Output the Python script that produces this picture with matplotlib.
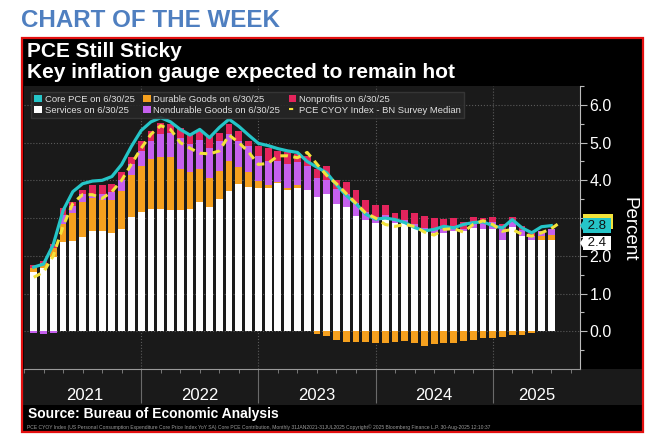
import numpy as np
import matplotlib
matplotlib.use("Agg")
from matplotlib import pyplot as plt
from matplotlib.patches import Patch, Rectangle, Polygon
from matplotlib.lines import Line2D
from matplotlib.transforms import blended_transform_factory

plt.rcParams['font.family'] = ['Liberation Sans', 'DejaVu Sans']
NARROW = ['Liberation Sans Narrow', 'Liberation Sans', 'DejaVu Sans']

# monthly, Jan 2021 .. Jun 2025 (contributions to core PCE y/y, pct pts)
years = ['2021', '2022', '2023', '2024', '2025']
services = [1.57, 1.68, 1.98, 2.36, 2.39, 2.50, 2.65, 2.65, 2.61, 2.72, 3.04, 3.17,
            3.23, 3.23, 3.22, 3.22, 3.23, 3.42, 3.30, 3.50, 3.72, 3.89, 3.83, 3.81,
            3.81, 3.93, 3.74, 3.81, 3.74, 3.57, 3.65, 3.37, 3.29, 3.06, 2.96, 2.87,
            3.04, 2.87, 2.87, 2.77, 2.66, 2.60, 2.60, 2.67, 2.65, 2.74, 2.70, 2.71,
            2.42, 2.76, 2.52, 2.42, 2.43, 2.42]
durable = [0.11, 0.12, 0.22, 0.47, 0.74, 0.93, 0.87, 0.83, 0.87, 1.00, 1.09, 1.22,
           1.34, 1.38, 1.39, 1.08, 0.99, 0.88, 0.77, 0.76, 0.78, 0.46, 0.39, 0.18,
           0.06, 0.03, 0.07, 0.06, 0.00, -0.06, -0.13, -0.23, -0.28, -0.28, -0.28, -0.30,
           -0.32, -0.28, -0.27, -0.30, -0.40, -0.35, -0.32, -0.30, -0.26, -0.22, -0.17, -0.17,
           -0.15, -0.11, -0.11, -0.04, 0.09, 0.14]
nondurable = [-0.05, -0.06, -0.04, 0.26, 0.20, 0.22, 0.13, 0.17, 0.22, 0.30, 0.30, 0.39,
              0.47, 0.61, 0.65, 0.83, 0.74, 0.76, 0.80, 0.78, 0.72, 0.69, 0.69, 0.65,
              0.65, 0.56, 0.62, 0.61, 0.65, 0.50, 0.35, 0.41, 0.36, 0.33, 0.21, 0.17,
              0.05, 0.09, 0.08, 0.06, 0.08, 0.10, 0.12, 0.11, 0.07, 0.09, 0.17, 0.18,
              0.30, 0.14, 0.16, 0.10, 0.13, 0.14]
nonprofits = [0.08, 0.05, 0.10, 0.17, 0.10, 0.09, 0.22, 0.22, 0.21, 0.20, 0.18, 0.26,
              0.26, 0.30, 0.22, 0.26, 0.30, 0.24, 0.30, 0.22, 0.26, 0.26, 0.13, 0.26,
              0.35, 0.26, 0.31, 0.22, 0.26, 0.23, 0.39, 0.24, 0.31, 0.35, 0.31, 0.31,
              0.26, 0.17, 0.27, 0.31, 0.31, 0.30, 0.25, 0.22, 0.17, 0.20, 0.13, 0.14,
              0.12, 0.14, 0.12, 0.08, 0.01, 0.02]
core_pce = [1.70, 1.78, 2.30, 3.20, 3.70, 3.91, 3.98, 4.00, 4.10, 4.42, 4.90, 5.32,
            5.55, 5.66, 5.55, 5.35, 5.20, 5.35, 5.13, 5.40, 5.62, 5.43, 5.20, 4.98,
            4.92, 4.84, 4.78, 4.74, 4.50, 4.35, 4.20, 3.88, 3.60, 3.38, 3.10, 2.97,
            3.00, 2.96, 2.88, 2.75, 2.66, 2.70, 2.78, 2.74, 2.83, 2.88, 2.90, 2.80,
            2.74, 2.96, 2.74, 2.61, 2.77, 2.80]
# survey median runs one month further (Jul 2025)
median = [1.43, 1.57, 2.00, 2.78, 3.39, 3.62, 3.62, 3.52, 3.70, 4.00, 4.43, 4.85,
          5.22, 5.45, 5.35, 5.00, 4.85, 4.72, 4.70, 4.78, 5.20, 5.00, 4.75, 4.42,
          4.45, 4.65, 4.65, 4.60, 4.74, 4.43, 4.13, 3.91, 3.65, 3.39, 3.13, 3.00,
          2.83, 2.78, 2.83, 2.78, 2.63, 2.55, 2.70, 2.72, 2.63, 2.83, 2.93, 2.83,
          2.65, 2.70, 2.57, 2.52, 2.61, 2.72, 2.90]

CYAN = '#25c5c8'
ORANGE = '#f5a01e'
PURPLE = '#c660ee'
CRIMSON = '#e3245c'
YELLOW = '#f3e33b'
PLOT_BG = '#1a1a1a'


def box(x0, y0, x1, y1):
    # pixel box (from top-left) -> figure fraction rect
    return [x0 / 660, 1 - y1 / 440, (x1 - x0) / 660, (y1 - y0) / 440]


fig = plt.figure(figsize=(6.6, 4.4), dpi=100)
fig.patch.set_facecolor('white')

fig.add_artist(Rectangle((22 / 660, 1 - 432 / 440), 621 / 660, 394 / 440,
                         transform=fig.transFigure, facecolor='black',
                         edgecolor='none', zorder=-2))
fig.add_artist(Rectangle((22 / 660, 1 - 405 / 440), 621 / 660, 36 / 440,
                         transform=fig.transFigure, facecolor=PLOT_BG,
                         edgecolor='none', zorder=-1))
fig.add_artist(Rectangle((22 / 660, 1 - 432 / 440), 621 / 660, 394 / 440,
                         transform=fig.transFigure, facecolor='none',
                         edgecolor='#e31010', lw=1.6, zorder=20))

ax = fig.add_axes(box(24, 86, 580, 369))
ax.set_facecolor(PLOT_BG)

n = len(services)
x = np.arange(n)
pos = np.zeros(n)
neg = np.zeros(n)
for vals, color in [(services, 'white'), (durable, ORANGE),
                    (nondurable, PURPLE), (nonprofits, CRIMSON)]:
    v = np.array(vals)
    bottom = np.where(v >= 0, pos, neg)
    ax.bar(x, v, 0.70, bottom=bottom, color=color, lw=0, zorder=2)
    pos += np.clip(v, 0, None)
    neg += np.clip(v, None, 0)

ax.plot(x, core_pce, color=CYAN, lw=2.3, zorder=3, solid_joinstyle='round')
ax.plot(np.arange(len(median)), median, color=YELLOW, lw=2.2,
        dashes=(2.5, 1.8), zorder=4)

ax.set_xlim(-0.51, 55.94)
ax.set_ylim(-1.0, 6.37)

# year boundaries (month-end Dec)
bounds = [11, 23, 35, 47]
for b in bounds:
    ax.axvline(b, color='#5a5a5a', ls=':', lw=0.8, zorder=1)
ax.set_yticks(np.arange(0, 7, 1))
ax.set_yticks([v for v in np.arange(-1, 6.6, 0.5) if v % 1], minor=True)
# the 3.0 label sits under the value tags, as in the source chart
ax.set_yticklabels(['' if v == 3 else f'{v:.1f}' for v in np.arange(0, 7, 1)])
ax.grid(axis='y', which='major', color='#5a5a5a', ls=':', lw=0.8)
ax.set_axisbelow(True)
ax.yaxis.tick_right()
ax.set_xticks([])
ax.set_xticks(np.arange(-1, 56, 2), minor=True)
ax.tick_params(axis='y', which='major', length=5, width=0.8, color='#bbbbbb',
               labelcolor='white', labelsize=11.5, pad=2)
ax.tick_params(axis='y', which='minor', length=3, width=0.8, color='#bbbbbb')
ax.tick_params(axis='x', which='minor', length=3, width=0.6, color='#888888')
for lab in ax.get_yticklabels():
    lab.set_family(NARROW)
for s in ['left', 'top']:
    ax.spines[s].set_visible(False)
ax.spines['right'].set_color('#bbbbbb')
ax.spines['right'].set_linewidth(0.8)
ax.spines['bottom'].set_color('#999999')
ax.spines['bottom'].set_linewidth(0.8)

# year band under the plot
ax2 = fig.add_axes(box(24, 369, 580, 405), sharex=ax)
ax2.set_facecolor('none')
ax2.axis('off')
ax2.vlines(bounds, 0, 1, color='#6a6a6a', lw=0.8)
edges = [-0.51] + bounds + [55.94]
for i, yr in enumerate(years):
    ax2.text((edges[i] + edges[i + 1]) / 2, 0.24, yr, color='white',
             fontsize=12, ha='center', va='center', family=NARROW)

# value tags at right (survey tag sits behind, only its top edge shows;
# services tag is stacked just below the core tag)
tr = blended_transform_factory(ax.transAxes, ax.transData)
ax.add_patch(Rectangle((1.006, median[-1] - 0.2), 0.054, 0.42, transform=tr,
                       facecolor=YELLOW, edgecolor='none', clip_on=False,
                       zorder=5))
tags = [(min(services[-1], core_pce[-1] - 0.46), services[-1], 'white', 6),
        (core_pce[-1], core_pce[-1], CYAN, 7)]
for ypos, val, fc, z in tags:
    ax.add_patch(Polygon([(1.0, ypos), (1.008, ypos + 0.18), (1.008, ypos - 0.18)],
                         closed=True, transform=tr, facecolor=fc,
                         edgecolor='none', clip_on=False, zorder=z))
    ax.text(1.008, ypos, f' {val:.1f} ', transform=tr, ha='left', va='center',
            fontsize=9.5, color='#111111', clip_on=False, zorder=z,
            bbox=dict(boxstyle='square,pad=0.1', fc=fc, ec='none'))

handles = [Patch(facecolor=CYAN), Patch(facecolor='white'),
           Patch(facecolor=ORANGE), Patch(facecolor=PURPLE),
           Patch(facecolor=CRIMSON),
           Line2D([], [], color=YELLOW, lw=1.5, dashes=(2, 1.5))]
labels = ['Core PCE on 6/30/25', 'Services on 6/30/25',
          'Durable Goods on 6/30/25', 'Nondurable Goods on 6/30/25',
          'Nonprofits on 6/30/25', 'PCE CYOY Index - BN Survey Median']
leg = ax.legend(handles, labels, loc='upper left', bbox_to_anchor=(0.004, 0.997),
                ncol=3, frameon=True, fancybox=False,
                facecolor='#262626', edgecolor='#3a3a3a', framealpha=0.85,
                labelcolor='#e0e0e0', handlelength=0.8, handleheight=0.8,
                handletextpad=0.3, columnspacing=0.9, borderpad=0.35,
                labelspacing=0.2, prop={'family': NARROW, 'size': 6.8})
leg.set_zorder(10)

fig.text(629 / 660, 1 - 229 / 440, 'Percent', rotation=270, color='white',
         fontsize=13.5, ha='center', va='center')

fig.text(21 / 660, 1 - 27 / 440, 'CHART OF THE WEEK', color='#4f7fc0',
         fontsize=17.4, weight='bold', va='baseline')
fig.text(27 / 660, 1 - 57 / 440, 'PCE Still Sticky', color='white',
         fontsize=15, weight='bold', va='baseline')
fig.text(27 / 660, 1 - 78 / 440, 'Key inflation gauge expected to remain hot',
         color='white', fontsize=15, weight='bold', va='baseline')
fig.text(28 / 660, 1 - 418 / 440, 'Source: Bureau of Economic Analysis',
         color='white', fontsize=10, weight='bold', va='baseline')
fig.text(27 / 660, 1 - 429 / 440,
         'PCE CYOY Index (US Personal Consumption Expenditure Core Price Index YoY SA) '
         'Core PCE Contribution, Monthly 31JAN2021-31JUL2025 Copyright\u00a9 2025 '
         'Bloomberg Finance L.P. 30-Aug-2025 12:10:37',
         color='#9a9a9a', fontsize=3.6, va='baseline')

fig.savefig('out.png', dpi=100)
